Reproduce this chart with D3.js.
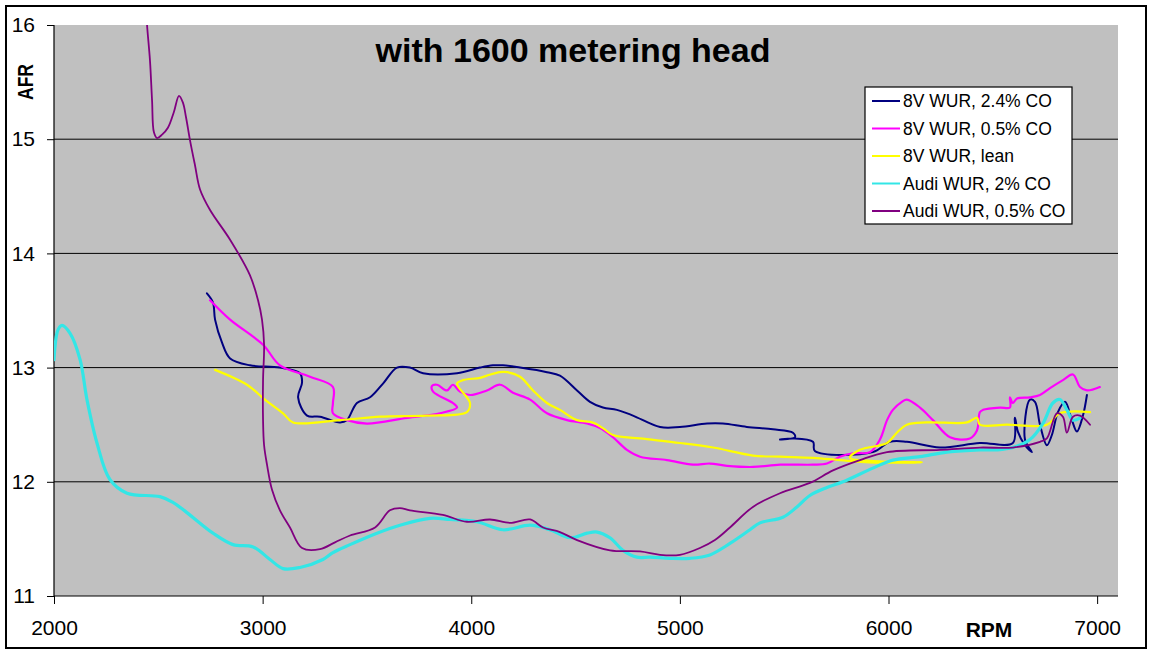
<!DOCTYPE html>
<html>
<head>
<meta charset="utf-8">
<script src="https://cdn.jsdelivr.net/npm/d3@7"></script>
<style>
  html, body { margin: 0; padding: 0; background: #ffffff; }
  svg { display: block; }
  text { font-family: Arial, "Liberation Sans", sans-serif; }
</style>
</head>
<body>
<svg id="chart" width="1150" height="654"></svg>
<script>
// ---------------- data ----------------
const title = "with 1600 metering head";
const seriesNames = ["8V WUR, 2.4% CO", "8V WUR, 0.5% CO", "8V WUR, lean", "Audi WUR, 2% CO", "Audi WUR, 0.5% CO"];
const xTicks = [2000, 3000, 4000, 5000, 6000, 7000];
const yTicks = [11, 12, 13, 14, 15, 16];

// [RPM, AFR]
const wur8v24 = [
  [2733,13.65],[2762,13.57],[2772,13.42],[2805,13.22],[2844,13.08],[2939,13.02],[3083,13.00],[3179,12.95],
  [3189,12.87],[3170,12.74],[3213,12.58],[3275,12.57],[3371,12.52],[3404,12.54],[3452,12.69],[3515,12.74],
  [3577,12.86],[3644,13.00],[3706,13.00],[3769,12.95],[3932,12.95],[4042,13.00],[4104,13.02],[4152,13.02],
  [4234,13.00],[4363,12.96],[4425,12.93],[4507,12.80],[4569,12.70],[4631,12.65],[4698,12.63],[4775,12.58],
  [4905,12.48],[5000,12.48],[5130,12.51],[5206,12.51],[5321,12.48],[5446,12.46],[5542,12.43],[5552,12.39],
  [5480,12.37],[5542,12.38],[5638,12.35],[5647,12.27],[5925,12.26],[6007,12.35],[6088,12.35],[6247,12.30],
  [6438,12.34],[6596,12.34],[6606,12.56],[6620,12.44],[6654,12.32],[6687,12.26],[6654,12.37],[6678,12.72],
  [6702,12.70],[6726,12.50],[6759,12.32],[6783,12.41],[6812,12.61],[6846,12.70],[6879,12.54],[6903,12.44],
  [6932,12.58],[6951,12.76]
];
const wur8v05 = [
  [2748,13.59],[2844,13.42],[3002,13.20],[3083,13.02],[3227,12.92],[3337,12.83],[3337,12.69],[3337,12.60],
  [3404,12.54],[3500,12.51],[3692,12.56],[3850,12.60],[3932,12.65],[3912,12.69],[3817,12.79],[3812,12.84],
  [3836,12.85],[3884,12.80],[3912,12.85],[3946,12.79],[3994,12.76],[4075,12.80],[4138,12.85],[4200,12.78],
  [4282,12.72],[4363,12.60],[4459,12.54],[4555,12.51],[4617,12.47],[4679,12.39],[4746,12.28],[4809,12.22],
  [4938,12.19],[5063,12.15],[5144,12.16],[5226,12.14],[5350,12.13],[5480,12.15],[5638,12.15],[5705,12.16],
  [5767,12.22],[5830,12.25],[5911,12.26],[5959,12.37],[5993,12.54],[6021,12.63],[6064,12.70],[6088,12.72],
  [6151,12.65],[6213,12.54],[6295,12.39],[6390,12.38],[6424,12.45],[6438,12.61],[6453,12.63],[6534,12.65],
  [6582,12.65],[6582,12.74],[6596,12.69],[6616,12.73],[6678,12.74],[6726,12.76],[6774,12.82],[6836,12.89],
  [6884,12.94],[6918,12.83],[6951,12.80],[7013,12.83]
];
const wur8vLean = [
  [2772,12.98],[2925,12.85],[3011,12.72],[3098,12.60],[3146,12.52],[3371,12.54],[3563,12.57],[3788,12.58],
  [3979,12.61],[3994,12.69],[3979,12.74],[3932,12.86],[3960,12.89],[4042,12.91],[4075,12.93],[4138,12.96],
  [4172,12.96],[4234,12.92],[4296,12.80],[4363,12.69],[4425,12.63],[4507,12.54],[4583,12.52],[4631,12.47],
  [4679,12.41],[4809,12.38],[5000,12.34],[5159,12.30],[5350,12.23],[5480,12.22],[5638,12.21],[5767,12.19],
  [5911,12.17],[6160,12.17],[5959,12.18],[5815,12.21],[5863,12.28],[5993,12.34],[6040,12.43],[6088,12.50],
  [6184,12.52],[6376,12.52],[6424,12.56],[6438,12.50],[6568,12.50],[6759,12.50],[6822,12.60],[6966,12.61]
];
const audi2 = [
  [2000,13.07],[2019,13.33],[2038,13.37],[2077,13.30],[2125,13.07],[2158,12.72],[2206,12.34],[2268,12.02],
  [2350,11.90],[2508,11.87],[2570,11.82],[2637,11.73],[2762,11.55],[2858,11.45],[2954,11.43],[3035,11.32],
  [3098,11.24],[3179,11.25],[3289,11.32],[3337,11.38],[3419,11.45],[3548,11.55],[3658,11.62],[3802,11.68],
  [3898,11.67],[4027,11.65],[4152,11.58],[4282,11.62],[4377,11.58],[4473,11.51],[4555,11.55],[4603,11.56],
  [4665,11.51],[4727,11.40],[4794,11.34],[4857,11.34],[4952,11.33],[5048,11.33],[5144,11.36],[5240,11.46],
  [5336,11.58],[5384,11.64],[5494,11.69],[5561,11.78],[5623,11.88],[5705,11.95],[5782,12.00],[5925,12.12],
  [6021,12.19],[6151,12.22],[6280,12.26],[6438,12.28],[6520,12.28],[6596,12.30],[6678,12.37],[6740,12.51],
  [6788,12.69],[6822,12.72],[6855,12.63],[6884,12.54],[6918,12.56]
];
const audi05 = [
  [2440,16.20],[2446,16.00],[2460,15.69],[2470,15.34],[2479,15.06],[2494,15.01],[2518,15.04],[2546,15.10],
  [2575,15.24],[2599,15.38],[2618,15.32],[2633,15.19],[2652,14.99],[2676,14.77],[2700,14.56],[2748,14.38],
  [2844,14.12],[2939,13.81],[2978,13.59],[2997,13.42],[3007,13.20],[3002,12.89],[3002,12.54],[3007,12.32],
  [3021,12.15],[3045,11.93],[3083,11.75],[3131,11.60],[3189,11.42],[3275,11.41],[3347,11.47],[3419,11.53],
  [3539,11.60],[3610,11.75],[3658,11.77],[3706,11.75],[3864,11.71],[3979,11.65],[4090,11.67],[4186,11.64],
  [4282,11.67],[4344,11.60],[4425,11.56],[4507,11.49],[4665,11.40],[4809,11.39],[4905,11.36],[5000,11.36],
  [5096,11.42],[5168,11.49],[5240,11.60],[5350,11.78],[5480,11.90],[5623,11.99],[5734,12.10],[5863,12.19],
  [5993,12.26],[6247,12.28],[6438,12.30],[6596,12.30],[6726,12.35],[6759,12.38],[6807,12.60],[6836,12.57],
  [6855,12.43],[6884,12.57],[6918,12.58],[6966,12.50]
];
const seriesData = [wur8v24, wur8v05, wur8vLean, audi2, audi05];
const seriesColors = ["#000080", "#ff00ff", "#ffff00", "#33e6e6", "#800080"];
const seriesWidths = [2, 2.2, 2.2, 3.2, 1.8];

// ---------------- layout ----------------
const svg = d3.select("#chart");
const plot = { left: 54, right: 1118, top: 25, bottom: 596 };

const x = d3.scaleLinear().domain([2000, 7100]).range([plot.left, plot.right]);
const y = d3.scaleLinear().domain([11, 16]).range([plot.bottom, plot.top]);

// outer border
svg.append("rect")
  .attr("x", 6).attr("y", 6).attr("width", 1140).attr("height", 642)
  .attr("fill", "#ffffff").attr("stroke", "#000").attr("stroke-width", 2);

// plot background
svg.append("rect")
  .attr("x", plot.left).attr("y", plot.top)
  .attr("width", plot.right - plot.left).attr("height", plot.bottom - plot.top)
  .attr("fill", "#c0c0c0");

// gridlines
svg.append("g").selectAll("line")
  .data(yTicks.filter(d => d > 11 && d < 16))
  .join("line")
  .attr("x1", plot.left).attr("x2", plot.right)
  .attr("y1", d => y(d)).attr("y2", d => y(d))
  .attr("stroke", "#000").attr("stroke-width", 1);

// axes
const xAxis = d3.axisBottom(x).tickValues(xTicks).tickFormat(d3.format("d")).tickSize(8).tickPadding(16);
const gx = svg.append("g").attr("transform", `translate(0,${plot.bottom})`).call(xAxis);
gx.select(".domain").attr("stroke", "#000").attr("stroke-width", 1.2).attr("d", `M${plot.left},0H${plot.right}`);
gx.selectAll(".tick line").attr("stroke", "#000");
gx.selectAll(".tick text").attr("font-size", 21).attr("fill", "#000").attr("font-family", "Arial, 'Liberation Sans', sans-serif");

const yAxis = d3.axisLeft(y).tickValues(yTicks).tickFormat(d3.format("d")).tickSize(7).tickPadding(12);
const gy = svg.append("g").attr("transform", `translate(${plot.left},0)`).call(yAxis);
gy.select(".domain").attr("stroke", "#000").attr("stroke-width", 1.2).attr("d", `M0,${plot.top}V${plot.bottom}`);
gy.selectAll(".tick line").attr("stroke", "#000");
gy.selectAll(".tick text").attr("font-size", 21).attr("fill", "#000").attr("font-family", "Arial, 'Liberation Sans', sans-serif");

// clip
svg.append("clipPath").attr("id", "plotclip")
  .append("rect").attr("x", plot.left).attr("y", plot.top)
  .attr("width", plot.right - plot.left).attr("height", plot.bottom - plot.top);

const line = d3.line()
  .x(d => x(d[0])).y(d => y(d[1]))
  .curve(d3.curveCatmullRom.alpha(0.5));

const gLines = svg.append("g").attr("clip-path", "url(#plotclip)");
seriesData.forEach((data, i) => {
  gLines.append("path")
    .datum(data)
    .attr("d", line)
    .attr("fill", "none")
    .attr("stroke", seriesColors[i])
    .attr("stroke-width", seriesWidths[i])
    .attr("stroke-linejoin", "round")
    .attr("stroke-linecap", "round");
});

// title
svg.append("text")
  .attr("x", 573).attr("y", 62)
  .attr("text-anchor", "middle")
  .attr("font-size", 34).attr("font-weight", "bold")
  .text(title);

// axis titles
svg.append("text")
  .attr("x", 989).attr("y", 637)
  .attr("text-anchor", "middle")
  .attr("font-size", 21).attr("font-weight", "bold")
  .text("RPM");

svg.append("text")
  .attr("transform", "translate(33,82) rotate(-90)")
  .attr("text-anchor", "middle")
  .attr("font-size", 22).attr("font-weight", "bold")
  .attr("textLength", 36).attr("lengthAdjust", "spacingAndGlyphs")
  .text("AFR");

// legend
const legend = svg.append("g");
legend.append("rect")
  .attr("x", 865).attr("y", 87).attr("width", 207).attr("height", 137)
  .attr("fill", "#fff").attr("stroke", "#000").attr("stroke-width", 1.2);
const legendItems = legend.selectAll("g.item")
  .data(seriesNames)
  .join("g")
  .attr("class", "item")
  .attr("transform", (d, i) => `translate(0,${101 + i * 27.5})`);
legendItems.append("line")
  .attr("x1", 872).attr("x2", 900).attr("y1", 0).attr("y2", 0)
  .attr("stroke", (d, i) => seriesColors[i])
  .attr("stroke-width", 2);
legendItems.append("text")
  .attr("x", 903).attr("y", 0).attr("dy", "0.36em")
  .attr("font-size", 17.5)
  .text(d => d);
</script>
</body>
</html>
